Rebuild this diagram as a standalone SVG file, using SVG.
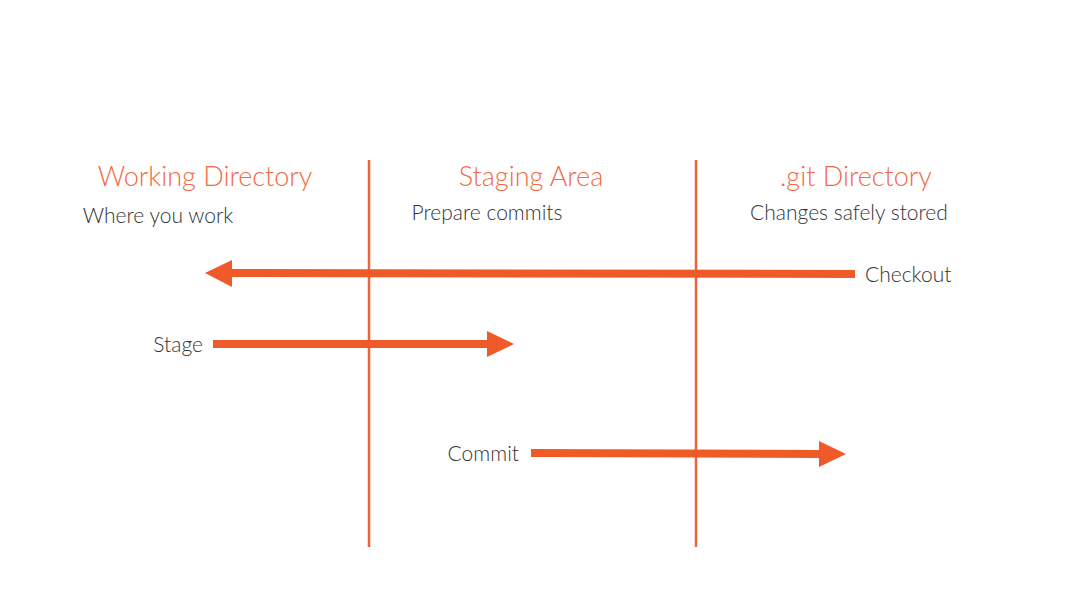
<svg xmlns="http://www.w3.org/2000/svg" width="1068" height="600" viewBox="0 0 1068 600">
<style>
.t{font-family:Lato,"Open Sans",sans-serif;font-weight:300;fill:#F26A44;font-size:27px}
.s{font-family:Lato,"Open Sans",sans-serif;font-weight:300;fill:#333;font-size:21px}
.v{stroke:#F0623A;stroke-width:2.5}
.a{stroke:#F05A28;stroke-width:8}
.h{fill:#F05A28}
</style>
<rect width="1068" height="600" fill="#fff"/>
<g id="working"><text class="t" x="205" y="186" text-anchor="middle">Working Directory</text><text class="s" x="158" y="223" text-anchor="middle">Where you work</text></g>
<g id="staging"><text class="t" x="531" y="186" text-anchor="middle">Staging Area</text><text class="s" x="487" y="220" text-anchor="middle">Prepare commits</text></g>
<g id="gitdir"><text class="t" x="856" y="186" text-anchor="middle">.git Directory</text><text class="s" x="849" y="220" text-anchor="middle">Changes safely stored</text></g>
<g id="labels"><text class="s" x="865" y="282">Checkout</text><text class="s" x="203" y="352" text-anchor="end">Stage</text><text class="s" x="519" y="461" text-anchor="end">Commit</text></g>
<g id="connectors">
<line class="v" x1="369" y1="160" x2="369" y2="547"/>
<line class="v" x1="696" y1="160" x2="696" y2="547"/>
<line class="a" x1="855" y1="274" x2="228" y2="273"/>
<polygon class="h" points="205,273 232,260 232,287"/>
<line class="a" x1="213" y1="344" x2="490" y2="344"/>
<polygon class="h" points="514,344 487,331 487,357"/>
<line class="a" x1="531" y1="453" x2="822" y2="454"/>
<polygon class="h" points="846,454 819,441 819,467"/>
</g>
</svg>
